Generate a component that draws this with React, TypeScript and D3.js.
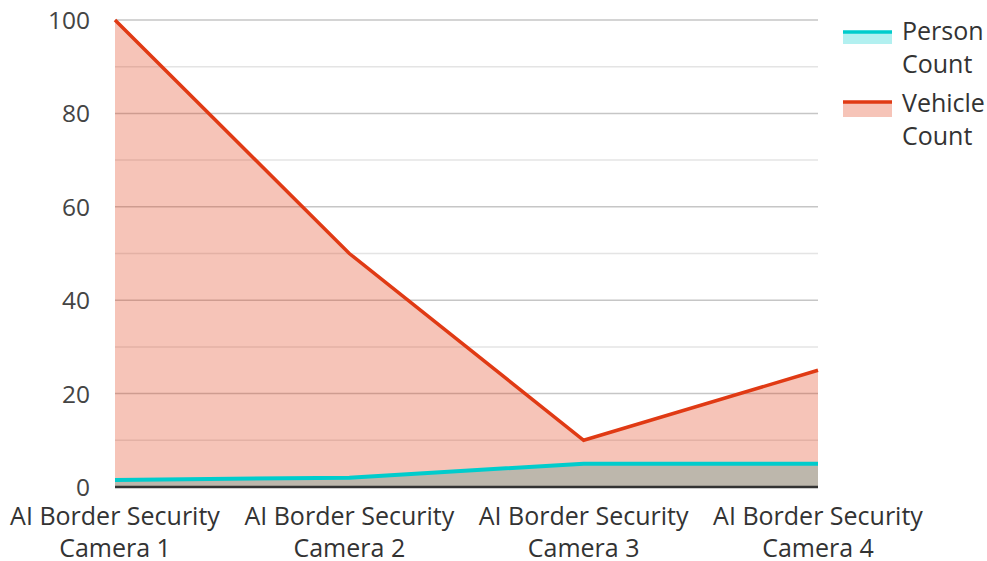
import React from "react";
import { scalePoint, scaleLinear, area, line } from "d3";

const width = 987;
const height = 561;

const cameras = [
  "AI Border Security Camera 1",
  "AI Border Security Camera 2",
  "AI Border Security Camera 3",
  "AI Border Security Camera 4",
];
const personCount = [1.5, 2, 5, 5];
const vehicleCount = [100, 50, 10, 25];
const yTicks = [0, 20, 40, 60, 80, 100];
const minorTicks = [10, 30, 50, 70, 90];

const left = 115;
const right = 818;
const top = 20;
const bottom = 487;

const font = "'Open Sans', 'Noto Sans', sans-serif";

const x = scalePoint<string>().domain(cameras).range([left, right]);
const y = scaleLinear().domain([0, 100]).range([bottom, top]);

const areaGen = area<number>()
  .x((_, i) => x(cameras[i]) as number)
  .y0(y(0))
  .y1((d) => y(d));
const lineGen = line<number>()
  .x((_, i) => x(cameras[i]) as number)
  .y((d) => y(d));

export default function App() {
  return (
    <svg
      width={width}
      height={height}
      style={{ position: "absolute", left: 0, top: 0 }}
      fontFamily={font}
    >
      <rect width={width} height={height} fill="white" />
      {/* grid */}
      {minorTicks.map((t) => (
        <line key={"m" + t} x1={left} x2={right} y1={y(t)} y2={y(t)} stroke="#e4e4e4" strokeWidth={1.5} />
      ))}
      {yTicks.map((t) => (
        <line key={"g" + t} x1={left} x2={right} y1={y(t)} y2={y(t)} stroke="#c6c6c6" strokeWidth={1.5} />
      ))}
      {/* areas */}
      <path d={areaGen(vehicleCount) || ""} fill="#e03a14" fillOpacity={0.3} />
      <path d={areaGen(personCount) || ""} fill="#bdb7ac" />
      <path d={lineGen(personCount) || ""} fill="none" stroke="#00cccc" strokeWidth={4} />
      <path d={lineGen(vehicleCount) || ""} fill="none" stroke="#e03a14" strokeWidth={3.5} />
      {/* baseline */}
      <line x1={left} x2={right} y1={bottom} y2={bottom} stroke="#333" strokeWidth={2.5} />
      {/* y labels */}
      {yTicks.map((t) => (
        <text key={"t" + t} x={90} y={y(t) + 9} textAnchor="end" fontSize={24.5} fill="#444">
          {t}
        </text>
      ))}
      {/* x labels */}
      {cameras.map((c) => {
        const idx = c.lastIndexOf(" Camera");
        return (
          <text key={c} x={x(c)} textAnchor="middle" fontSize={25} fill="#333">
            <tspan x={x(c)} y={525}>{c.slice(0, idx)}</tspan>
            <tspan x={x(c)} y={557}>{c.slice(idx + 1)}</tspan>
          </text>
        );
      })}
      {/* legend */}
      <rect x={843} y={33} width={49} height={11} fill="#00cccc" fillOpacity={0.3} />
      <line x1={843} x2={892} y1={32} y2={32} stroke="#00cccc" strokeWidth={3.5} />
      <text x={902} fontSize={25} fill="#333">
        <tspan x={902} y={40}>Person</tspan>
        <tspan x={902} y={73}>Count</tspan>
      </text>
      <rect x={843} y={102} width={49} height={15} fill="#e03a14" fillOpacity={0.3} />
      <line x1={843} x2={892} y1={102} y2={102} stroke="#e03a14" strokeWidth={3.5} />
      <text x={902} fontSize={25} fill="#333">
        <tspan x={902} y={112}>Vehicle</tspan>
        <tspan x={902} y={145}>Count</tspan>
      </text>
    </svg>
  );
}
